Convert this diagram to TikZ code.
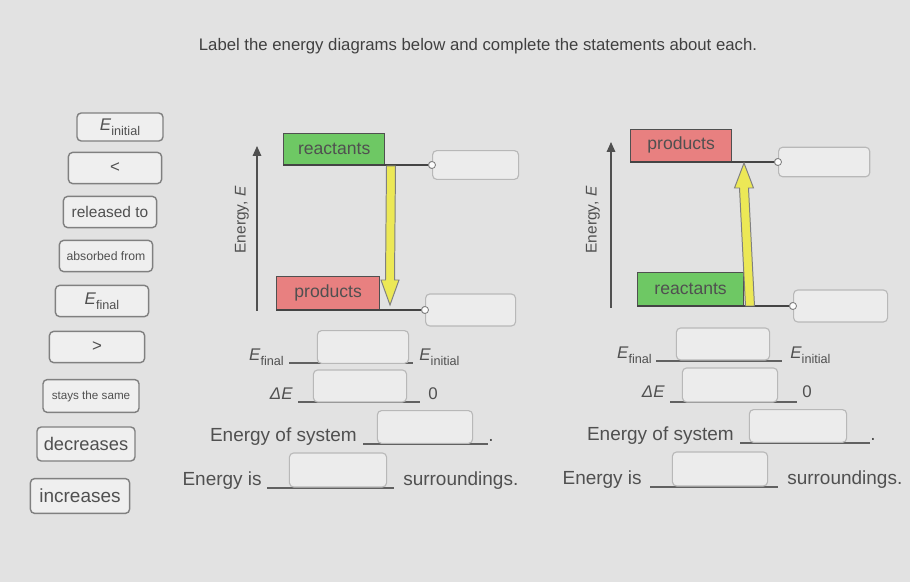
\documentclass[tikz,border=0pt]{standalone}
\usepackage{fontspec}
\setmainfont{Liberation Sans}
\usetikzlibrary{arrows.meta,calc,positioning}
\definecolor{paper}{RGB}{226,226,226}
\definecolor{ink}{RGB}{80,80,80}
\definecolor{tileedge}{RGB}{128,128,128}
\definecolor{slotedge}{RGB}{184,184,184}
\definecolor{lvgreen}{RGB}{110,200,100}
\definecolor{lvred}{RGB}{232,128,128}
\definecolor{arrowyellow}{RGB}{236,232,86}
\newcommand{\Esub}[1]{\textit{E}\raisebox{-0.55ex}{\fontsize{9}{10}\selectfont #1}}

\begin{document}
\begin{tikzpicture}[x=0.025cm, y=-0.025cm,
  tile/.style={draw=tileedge, fill=paper!55!white, line width=1pt, rounded corners=3pt, minimum width=2.33cm, minimum height=0.78cm, inner sep=0pt, text=ink},
  slot/.style={draw=slotedge, fill=paper!65!white, line width=0.8pt, rounded corners=3pt, minimum width=2.3cm, minimum height=0.8cm},
  level/.style={draw=ink, line width=0.8pt, minimum height=0.8cm, inner sep=0pt, anchor=south west, text=ink, font=\fontsize{12.5}{14}\selectfont},
  rung/.style={draw=ink!85!black, line width=1.4pt},
  knob/.style={circle, draw=tileedge, fill=white!90!paper, line width=0.6pt, minimum size=5pt, inner sep=0pt},
  blank/.style={draw=ink!90, line width=1.1pt},
  say/.style={text=ink, inner sep=0pt, font=\fontsize{13.5}{15}\selectfont},
  small/.style={text=ink, inner sep=0pt, font=\fontsize{12}{14}\selectfont},
  axis/.style={draw=ink, line width=1pt, -{Triangle[length=7pt, width=6pt]}},
  heat/.style={draw=tileedge, fill=arrowyellow, line width=0.7pt, line join=miter}
]
  \fill[paper] (0,0) rectangle (910,582);
  \useasboundingbox (0,0) rectangle (910,582);

  \node[say, anchor=base, font=\fontsize{11.9}{14}\selectfont, text=ink!80!black] (title) at (478,51)
    {Label the energy diagrams below and complete the statements about each.};

  % answer tiles
  \node[tile, minimum width=2.15cm, minimum height=0.7cm, font=\fontsize{12}{14}\selectfont] (tInit) at (120,127) {\Esub{initial}};
  \node[tile, font=\fontsize{12}{14}\selectfont] (tLess) at (115,168) {<};
  \node[tile, font=\fontsize{11}{13}\selectfont] (tRel) at (110,212) {released to};
  \node[tile, font=\fontsize{8.7}{10}\selectfont] (tAbs) at (106,256) {absorbed from};
  \node[tile, font=\fontsize{12}{14}\selectfont] (tFin) at (102,301) {\Esub{final}};
  \node[tile, minimum width=2.38cm, font=\fontsize{12}{14}\selectfont] (tMore) at (97,347) {>};
  \node[tile, minimum width=2.4cm, minimum height=0.82cm, font=\fontsize{8.3}{10}\selectfont] (tSame) at (91,396) {stays the same};
  \node[tile, minimum width=2.45cm, minimum height=0.85cm, font=\fontsize{13}{15}\selectfont] (tDec) at (86,444) {decreases};
  \node[tile, minimum width=2.48cm, minimum height=0.87cm, font=\fontsize{13.5}{15}\selectfont] (tInc) at (80,496) {increases};

  % left diagram: reactants high, products low
  \coordinate (axL0) at (257,311);
  \coordinate (axL1) at (257,146);
  \draw[axis] (axL0) -- (axL1);
  \node[small, rotate=90, font=\fontsize{11}{13}\selectfont] (eL) at (242,220) {Energy, \textit{E}};

  \node[level, fill=lvgreen, minimum width=2.53cm, minimum height=0.78cm] (reacL) at (283,165) {reactants};
  \node[level, fill=lvred, minimum width=2.58cm, minimum height=0.83cm] (prodL) at (276,310) {products};
  \node[knob] (kReacL) at (432,165) {};
  \node[knob] (kProdL) at (425,310) {};
  \draw[rung] (reacL.south west) -- (kReacL);
  \draw[rung] (prodL.south west) -- (kProdL);
  \node[slot, anchor=west, minimum width=2.15cm, minimum height=0.72cm] (sReacL) at (kReacL.center) {};
  \node[slot, anchor=west, minimum width=2.25cm] (sProdL) at (kProdL.center) {};
  \node[knob] at (kReacL) {};
  \node[knob] at (kProdL) {};

  \coordinate (hTopL) at (391,166);
  \coordinate (hTipL) at (390,305);
  \draw[heat] ($(hTopL)+(-4.5,0)$) -- ($(hTipL)+(-4.5,-25)$) -- ($(hTipL)+(-9,-25)$) -- (hTipL)
    -- ($(hTipL)+(9,-25)$) -- ($(hTipL)+(4.5,-25)$) -- ($(hTopL)+(4.5,0)$) -- cycle;

  % left statements
  \coordinate (a1) at (289,363); \coordinate (b1) at (413,363);
  \draw[blank] (a1) -- (b1);
  \node[slot, minimum width=2.28cm, minimum height=0.82cm] (sFinL) at (363,347) {};
  \node[small, anchor=base east] (lFinL) at (284,361) {\Esub{final}};
  \node[small, anchor=base west] (lIniL) at (419,361) {\Esub{initial}};

  \coordinate (a2) at (298,402); \coordinate (b2) at (420,402);
  \draw[blank] (a2) -- (b2);
  \node[slot, minimum width=2.33cm] (sDeltaL) at (360,386) {};
  \node[small, anchor=base east] (lDeltaL) at (293,400) {\textit{ΔE}};
  \node[small, anchor=base west] (lZeroL) at (428,400) {0};

  \coordinate (a3) at (363,444); \coordinate (b3) at (488,444);
  \draw[blank] (a3) -- (b3);
  \node[slot, minimum width=2.38cm, minimum height=0.82cm] (sSysL) at (425,427) {};
  \node[say, anchor=base east] (lSysL) at (357,442) {Energy of system};
  \node[say, anchor=base west] (lDotL) at (488,442) {.};

  \coordinate (a4) at (267,488); \coordinate (b4) at (394,488);
  \draw[blank] (a4) -- (b4);
  \node[slot, minimum width=2.43cm, minimum height=0.85cm] (sIsL) at (338,470) {};
  \node[say, anchor=base east] (lIsL) at (262,486) {Energy is};
  \node[say, anchor=base west] (lSurL) at (403,486) {surroundings.};

  % right diagram: reactants low, products high
  \coordinate (axR0) at (611,308);
  \coordinate (axR1) at (611,142);
  \draw[axis] (axR0) -- (axR1);
  \node[small, rotate=90, font=\fontsize{11}{13}\selectfont] (eR) at (593,220) {Energy, \textit{E}};

  \node[level, fill=lvred, minimum width=2.53cm] (prodR) at (630,162) {products};
  \node[level, fill=lvgreen, minimum width=2.65cm, minimum height=0.83cm] (reacR) at (637,306) {reactants};
  \node[knob] (kProdR) at (778,162) {};
  \node[knob] (kReacR) at (793,306) {};
  \draw[rung] (prodR.south west) -- (kProdR);
  \draw[rung] (reacR.south west) -- (kReacR);
  \node[slot, anchor=west, minimum width=2.28cm, minimum height=0.74cm] (sProdR) at (kProdR.center) {};
  \node[slot, anchor=west, minimum width=2.35cm] (sReacR) at (kReacR.center) {};
  \node[knob] at (kProdR) {};
  \node[knob] at (kReacR) {};

  \coordinate (hBotR) at (750,306);
  \coordinate (hTipR) at (744,163);
  \draw[heat] ($(hBotR)+(-4.5,0)$) -- ($(hTipR)+(-4.5,25)$) -- ($(hTipR)+(-9.5,25)$) -- (hTipR)
    -- ($(hTipR)+(9.5,25)$) -- ($(hTipR)+(4.5,25)$) -- ($(hBotR)+(4.5,0)$) -- cycle;

  % right statements
  \coordinate (c1) at (656,361); \coordinate (d1) at (782,361);
  \draw[blank] (c1) -- (d1);
  \node[slot, minimum width=2.33cm] (sFinR) at (723,344) {};
  \node[small, anchor=base east] (lFinR) at (652,359) {\Esub{final}};
  \node[small, anchor=base west] (lIniR) at (790,359) {\Esub{initial}};

  \coordinate (c2) at (670,402); \coordinate (d2) at (797,402);
  \draw[blank] (c2) -- (d2);
  \node[slot, minimum width=2.38cm, minimum height=0.85cm] (sDeltaR) at (730,385) {};
  \node[small, anchor=base east] (lDeltaR) at (665,398) {\textit{ΔE}};
  \node[small, anchor=base west] (lZeroR) at (802,398) {0};

  \coordinate (c3) at (740,443); \coordinate (d3) at (870,443);
  \draw[blank] (c3) -- (d3);
  \node[slot, minimum width=2.43cm, minimum height=0.82cm] (sSysR) at (798,426) {};
  \node[say, anchor=base east] (lSysR) at (734,441) {Energy of system};
  \node[say, anchor=base west] (lDotR) at (870,441) {.};

  \coordinate (c4) at (650,487); \coordinate (d4) at (778,487);
  \draw[blank] (c4) -- (d4);
  \node[slot, minimum width=2.38cm, minimum height=0.85cm] (sIsR) at (720,469) {};
  \node[say, anchor=base east] (lIsR) at (642,485) {Energy is};
  \node[say, anchor=base west] (lSurR) at (787,485) {surroundings.};
\end{tikzpicture}
\end{document}
